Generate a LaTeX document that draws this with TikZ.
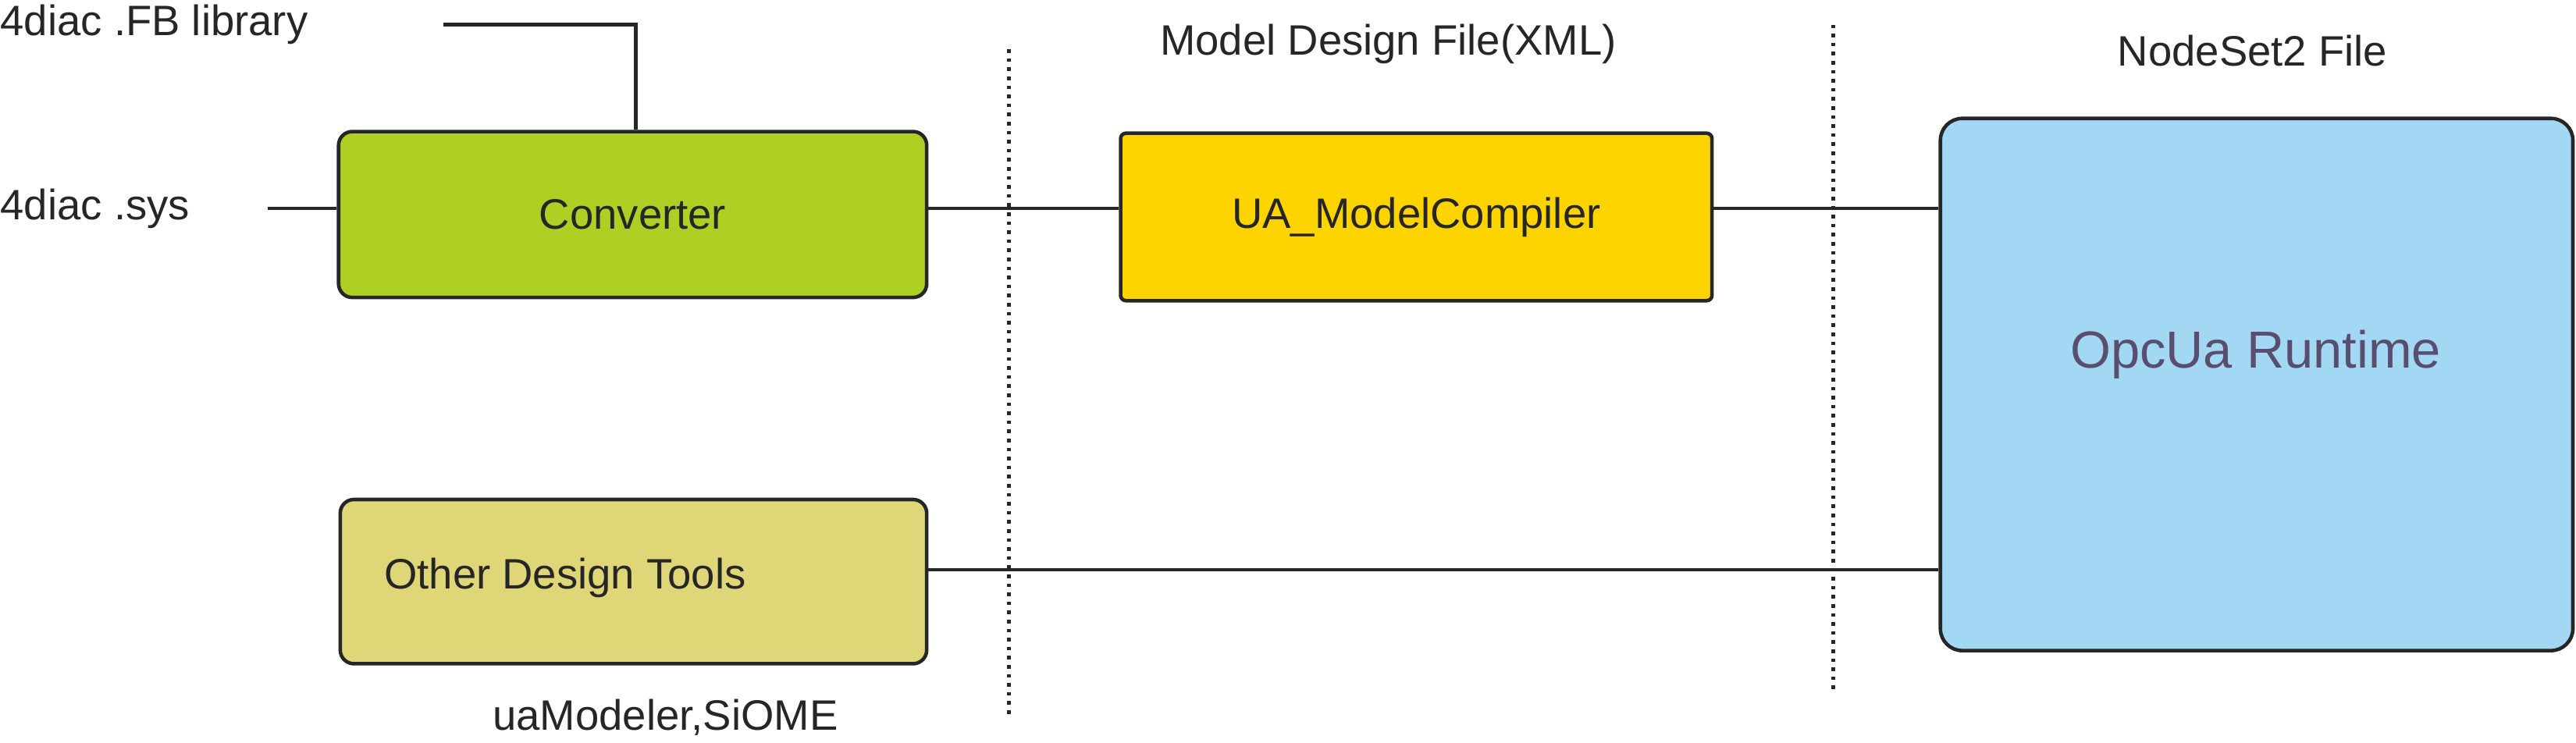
\documentclass[tikz,border=0pt]{standalone}
\usepackage{fontspec}
\setmainfont{Liberation Sans}
\begin{document}
\begin{tikzpicture}[x=0.021046cm,y=-0.021046cm,
  box/.style={draw=black!85,line width=1.3pt,rounded corners=5pt,inner sep=0pt,anchor=north west},
  ln/.style={line width=1.2pt,black!85},
  dot/.style={line width=1.3pt,dotted,black!85},
  lab/.style={font=\fontsize{15.5}{18}\selectfont,text=black!85}]
\useasboundingbox (0,0) rectangle (1568,452);
\definecolor{cg}{HTML}{AECF23}\definecolor{cy}{HTML}{FDD300}
\definecolor{cb}{HTML}{A2D8F4}\definecolor{co}{HTML}{DFD677}
\node[box,fill=cg,minimum width=358*0.021046cm,minimum height=101*0.021046cm] (conv) at (205,79) {};
\node[lab] at (conv.center) {Converter};
\node[box,fill=cy,rounded corners=2pt,minimum width=360*0.021046cm,minimum height=102*0.021046cm] (comp) at (681,80) {};
\node[lab] at (comp.center) {UA\_ModelCompiler};
\node[box,fill=cb,rounded corners=8pt,minimum width=385*0.021046cm,minimum height=324*0.021046cm] (rt) at (1180,71) {};
\node[font=\fontsize{19}{22}\selectfont,text={rgb,255:red,90;green,78;blue,110}] at (1373,216) {OpcUa Runtime};
\node[box,fill=co,minimum width=357*0.021046cm,minimum height=100*0.021046cm] (odt) at (206,303) {};
\node[lab,anchor=west] at (228,352) {Other Design Tools};
\node[lab,anchor=west,inner sep=0pt] (sys) at (0,127) {4diac .sys};
\node[lab,anchor=west,inner sep=0pt] (fb) at (0,15) {4diac .FB library};
\coordinate (s1) at (163,127);
\coordinate (f1) at (270,15);
\coordinate (f2) at (387,15);
\coordinate (f3) at (387,79);
\draw[ln] (s1) -- (conv.west|-s1);
\draw[ln] (f1) -- (f2) -- (f3);
\draw[ln] (563,127) -- (681,127);
\draw[ln] (1041,127) -- (1180,127);
\draw[ln] (563,347) -- (1180,347);
\draw[dot] (614,30) -- (614,437);
\draw[dot] (1116,15) -- (1116,422);
\node[lab] (mdf) at (845,27) {Model Design File(XML)};
\node[lab] (ns) at (1371,31) {NodeSet2 File};
\node[lab] (uam) at (405,437) {uaModeler,SiOME};
\end{tikzpicture}
\end{document}
